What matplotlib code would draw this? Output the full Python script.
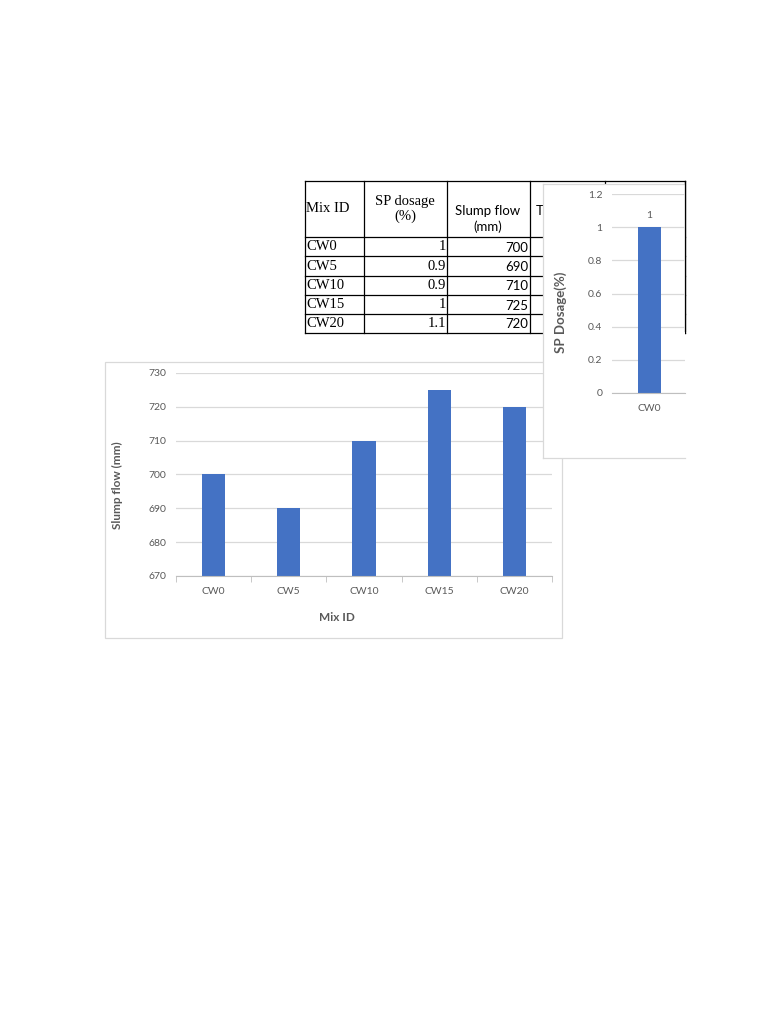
import matplotlib.pyplot as plt
from matplotlib.patches import Rectangle
from matplotlib.ticker import FuncFormatter
import numpy as np

plt.rcParams['font.family'] = ['Lato', 'DejaVu Sans']

mix_ids = ["CW0", "CW5", "CW10", "CW15", "CW20"]
sp_dosage = [1, 0.9, 0.9, 1, 1.1]
slump_flow = [700, 690, 710, 725, 720]
sp_text = ["1", "0.9", "0.9", "1", "1.1"]
slump_ticks = [670, 680, 690, 700, 710, 720, 730]
sp_ticks = [0, 0.2, 0.4, 0.6, 0.8, 1, 1.2]

W, H = 768, 1024
blue = '#4472C4'
grid = '#d9d9d9'
txt = '#595959'
serif = 'Liberation Serif'


def box(x0, y0, x1, y1):
    return [x0 / W, 1 - y1 / H, (x1 - x0) / W, (y1 - y0) / H]


fig = plt.figure(figsize=(7.68, 10.24), dpi=100)

# page layer: table and main chart frame
page = fig.add_axes([0, 0, 1, 1], zorder=0)
page.set_xlim(0, W)
page.set_ylim(H, 0)
page.axis('off')

page.add_patch(Rectangle((105, 362), 457, 276, fill=False, ec=grid, lw=0.9))

row_y = [181, 237, 256, 276, 295, 314, 333]
col_x = [305, 364, 447, 530, 605, 685]
for y in row_y:
    page.plot([305, 685], [y, y], color='black', lw=0.9)
for x in col_x:
    page.plot([x, x], [181, 333], color='black', lw=0.9)

page.text(306, 209, "Mix ID", family=serif, fontsize=10.5, va='center', ha='left')
page.text(405, 209, "SP dosage\n(%)", family=serif, fontsize=10.5, va='center',
          ha='center', linespacing=1.1)
page.text(488, 219, "Slump flow\n(mm)", fontsize=9.5, va='center', ha='center',
          linespacing=1.25)
page.text(536, 211, "T500 (s)", fontsize=9.5, va='center', ha='left')
for i in range(len(mix_ids)):
    yc = (row_y[i + 1] + row_y[i + 2]) / 2
    page.text(306, yc, mix_ids[i], family=serif, fontsize=10.5, va='center', ha='left')
    page.text(446, yc, sp_text[i], family=serif, fontsize=10.5, va='center', ha='right')
    page.text(528, yc + 1, str(slump_flow[i]), fontsize=9.5, va='center', ha='right')

# main chart
ax = fig.add_axes(box(176, 373, 552, 576), zorder=1)
ax.patch.set_visible(False)
x = np.arange(len(mix_ids))
ax.bar(x, slump_flow, width=0.31, color=blue, zorder=2)
ax.set_yticks(slump_ticks)
ax.set_xticks(x)
ax.set_xticklabels(mix_ids)
ax.set_xticks(np.arange(-0.5, 5, 1), minor=True)
ax.set_xlim(-0.5, 4.5)
ax.set_ylim(670, 730)
ax.grid(axis='y', color=grid, lw=0.9, zorder=0)
for s in ['top', 'right', 'left']:
    ax.spines[s].set_visible(False)
ax.spines['bottom'].set_color('#bfbfbf')
ax.tick_params(axis='both', which='major', length=0, labelsize=7.5, labelcolor=txt)
ax.tick_params(axis='y', pad=7)
ax.tick_params(axis='x', pad=8)
ax.tick_params(axis='x', which='minor', length=4, color='#bfbfbf')
ax.set_ylabel("Slump flow (mm)", fontsize=8.5, fontweight='bold', color=txt)
ax.yaxis.set_label_coords(-0.141, 0.448)
ax.set_xlabel("Mix ID", fontsize=8.5, fontweight='bold', color=txt)
ax.xaxis.set_label_coords(0.428, -0.177)

# overlapping SP dosage chart panel
over = fig.add_axes([0, 0, 1, 1], zorder=2)
over.patch.set_visible(False)
over.set_xlim(0, W)
over.set_ylim(H, 0)
over.axis('off')
over.add_patch(Rectangle((543, 184), 142, 274, fc='white', ec='none'))
over.plot([543, 685], [184, 184], color=grid, lw=0.9)
over.plot([543, 685], [458, 458], color=grid, lw=0.9)
over.plot([543, 543], [184, 458], color=grid, lw=0.9)
over.plot([685, 685], [181, 331], color='black', lw=0.9)

ax2 = fig.add_axes(box(612, 194, 685, 393), zorder=3)
ax2.patch.set_visible(False)
bars = ax2.bar(x, sp_dosage, width=0.31, color=blue, zorder=2)
ax2.bar_label(bars, labels=[f"{v:g}" for v in sp_dosage], padding=5,
              fontsize=7.5, color=txt, clip_on=True)
ax2.set_yticks(sp_ticks)
ax2.yaxis.set_major_formatter(FuncFormatter(lambda v, p: f"{v:g}"))
ax2.set_xticks(x)
ax2.set_xticklabels(mix_ids)
ax2.set_xlim(-0.5, 0.47)
ax2.set_ylim(0, 1.2)
ax2.grid(axis='y', color=grid, lw=0.9, zorder=0)
for s in ['top', 'right', 'left']:
    ax2.spines[s].set_visible(False)
ax2.spines['bottom'].set_color('#bfbfbf')
ax2.tick_params(axis='both', length=0, labelsize=7.5, labelcolor=txt)
ax2.tick_params(axis='y', pad=7)
ax2.tick_params(axis='x', pad=8)
ax2.set_ylabel("SP Dosage(%)", fontsize=9.5, fontweight='bold', color=txt)
ax2.yaxis.set_label_coords(-0.62, 0.407)

fig.savefig("out.png", dpi=100)
